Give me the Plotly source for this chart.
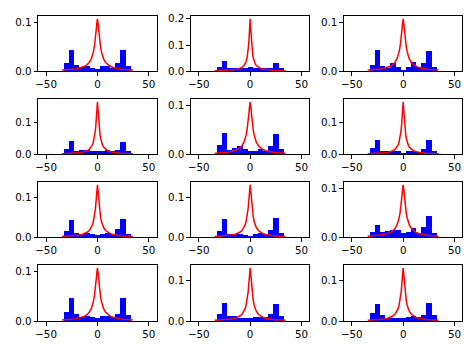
import plotly.graph_objects as go

# ---------------- data ----------------
BIN_CENTERS = [-30, -25, -20, -15, -10, -5, 0, 5, 10, 15, 20, 25, 30]
BIN_WIDTH = 5

DENS_1 = [0.0164, 0.0427, 0.012, 0.008, 0.011, 0.0066, 0.005, 0.011, 0.010, 0.006, 0.016, 0.044, 0.011]
DENS_2 = [0.016, 0.039, 0.013, 0.010, 0.010, 0.010, 0.017, 0.010, 0.010, 0.010, 0.012, 0.032, 0.010]
DENS_3 = [0.013, 0.043, 0.010, 0.006, 0.0167, 0.008, 0.003, 0.008, 0.018, 0.008, 0.0167, 0.041, 0.009]
DENS_4 = [0.016, 0.041, 0.011, 0.013, 0.013, 0.011, 0.009, 0.010, 0.012, 0.009, 0.014, 0.038, 0.008]
DENS_5 = [0.019, 0.042, 0.008, 0.012, 0.0155, 0.0095, 0.007, 0.0054, 0.011, 0.007, 0.017, 0.041, 0.0095]
DENS_6 = [0.020, 0.044, 0.010, 0.008, 0.010, 0.008, 0.003, 0.008, 0.010, 0.007, 0.017, 0.044, 0.010]
DENS_7 = [0.015, 0.043, 0.011, 0.007, 0.011, 0.007, 0.005, 0.007, 0.011, 0.007, 0.019, 0.045, 0.008]
DENS_8 = [0.016, 0.045, 0.008, 0.008, 0.007, 0.006, 0.003, 0.008, 0.011, 0.008, 0.017, 0.048, 0.011]
DENS_9 = [0.010, 0.025, 0.010, 0.0116, 0.015, 0.015, 0.008, 0.0095, 0.018, 0.008, 0.0197, 0.042, 0.008]
DENS_10 = [0.0168, 0.045, 0.0127, 0.0074, 0.010, 0.0074, 0.0047, 0.0094, 0.010, 0.0067, 0.0134, 0.045, 0.0114]
DENS_11 = [0.0165, 0.043, 0.0118, 0.0118, 0.007, 0.0055, 0.0055, 0.0087, 0.0087, 0.008, 0.0165, 0.041, 0.0118]
DENS_12 = [0.0197, 0.040, 0.015, 0.007, 0.007, 0.007, 0.007, 0.008, 0.0118, 0.008, 0.015, 0.043, 0.0134]

RED_X = [-34.5, -30, -26, -22, -18, -15, -12, -10, -8, -6, -5, -4, -3, -2.5, -2, -1.5, -1, -0.5,
         0, 0.5, 1, 1.5, 2, 2.5, 3, 4, 5, 6, 8, 10, 12, 15, 18, 22, 26, 30, 34.5]

RED_A = [0.00236, 0.00289, 0.00356, 0.00453, 0.00603, 0.00779, 0.01058, 0.01349, 0.0179, 0.0253,
         0.0310, 0.0389, 0.0500, 0.0573, 0.0660, 0.0763, 0.0878, 0.0993, 0.107,
         0.0993, 0.0878, 0.0763, 0.0660, 0.0573, 0.0500, 0.0389, 0.0310, 0.0253, 0.0179,
         0.01349, 0.01058, 0.00779, 0.00603, 0.00453, 0.00356, 0.00289, 0.00236]
RED_B = [0.00174, 0.00215, 0.00265, 0.0034, 0.00456, 0.00595, 0.0082, 0.0107, 0.0146, 0.0216,
         0.0275, 0.0364, 0.0511, 0.0622, 0.0773, 0.0985, 0.128, 0.167, 0.200,
         0.167, 0.128, 0.0985, 0.0773, 0.0622, 0.0511, 0.0364, 0.0275, 0.0216, 0.0146,
         0.0107, 0.0082, 0.00595, 0.00456, 0.0034, 0.00265, 0.00215, 0.00174]
RED_C = [0.00192, 0.00236, 0.00292, 0.00373, 0.0050, 0.0065, 0.00895, 0.01157, 0.0157, 0.0230,
         0.0290, 0.0378, 0.0517, 0.0618, 0.0751, 0.0926, 0.1153, 0.1422, 0.163,
         0.1422, 0.1153, 0.0926, 0.0751, 0.0618, 0.0517, 0.0378, 0.0290, 0.0230, 0.0157,
         0.01157, 0.00895, 0.0065, 0.0050, 0.00373, 0.00292, 0.00236, 0.00192]
RED_D = [0.00214, 0.00263, 0.00324, 0.00414, 0.00553, 0.00717, 0.00981, 0.01259, 0.01695, 0.0244,
         0.0303, 0.0388, 0.0515, 0.0602, 0.0712, 0.0847, 0.1010, 0.1185, 0.131,
         0.1185, 0.1010, 0.0847, 0.0712, 0.0602, 0.0515, 0.0388, 0.0303, 0.0244, 0.01695,
         0.01259, 0.00981, 0.00717, 0.00553, 0.00414, 0.00324, 0.00263, 0.00214]

PANEL_DENS = [DENS_1, DENS_2, DENS_3, DENS_4, DENS_5, DENS_6,
              DENS_7, DENS_8, DENS_9, DENS_10, DENS_11, DENS_12]
PANEL_RED = [RED_A, RED_B, RED_A, RED_C, RED_A, RED_C,
             RED_D, RED_D, RED_A, RED_A, RED_D, RED_D]

X_TICKS = [-50, 0, 50]
X_TICK_TEXT = ["\u221250", "0", "50"]
Y_TICKS = [0.0, 0.1, 0.2]
Y_TICK_TEXT = ["0.0", "0.1", "0.2"]

# ---------------- layout geometry (window pixels) ----------------
OFF = 8  # page body margin
W, H = 474 - OFF, 355 - OFF
COL_PX = [(35.3, 154.7), (189.0, 308.4), (343.0, 462.4)]
ROW_PX = [(12.3, 69.0), (98.0, 154.7), (183.3, 240.0), (269.0, 326.3)]
X_RANGE = [-57.75, 57.75]

fig = go.Figure()
font = dict(family="DejaVu Sans", size=10.3, color="black")

for i in range(12):
    r, c = divmod(i, 3)
    xa = "x" if i == 0 else f"x{i+1}"
    ya = "y" if i == 0 else f"y{i+1}"
    dens = PANEL_DENS[i]
    red = PANEL_RED[i]
    fig.add_trace(go.Bar(x=BIN_CENTERS, y=dens, width=BIN_WIDTH,
                         marker=dict(color="#0000ff", line=dict(width=0)),
                         xaxis=xa, yaxis=ya, showlegend=False, hoverinfo="skip"))
    fig.add_trace(go.Scatter(x=RED_X, y=red, mode="lines",
                             line=dict(color="#ff0000", width=1.5),
                             xaxis=xa, yaxis=ya, showlegend=False, hoverinfo="skip"))
    ymax = 1.05 * max(max(dens), max(red))
    yt = [v for v in Y_TICKS if v <= ymax]
    ytt = [Y_TICK_TEXT[k] for k, v in enumerate(Y_TICKS) if v <= ymax]
    x0, x1 = COL_PX[c]
    t0, t1 = ROW_PX[r]
    common = dict(showline=True, mirror=True, linecolor="black", linewidth=0.8,
                  ticks="outside", ticklen=3.5, tickwidth=0.8, tickcolor="black",
                  showgrid=False, zeroline=False, tickfont=font, fixedrange=True)
    fig.layout[("xaxis" if i == 0 else f"xaxis{i+1}")] = dict(
        domain=[(x0 - OFF) / W, (x1 - OFF) / W], anchor=ya, range=X_RANGE,
        tickvals=X_TICKS, ticktext=X_TICK_TEXT, **common)
    fig.layout[("yaxis" if i == 0 else f"yaxis{i+1}")] = dict(
        domain=[1 - (t1 - OFF) / H, 1 - (t0 - OFF) / H], anchor=xa, range=[0, ymax],
        tickvals=yt, ticktext=ytt, **common)

fig.update_layout(width=W, height=H, margin=dict(l=0, r=0, t=0, b=0),
                  paper_bgcolor="white", plot_bgcolor="white",
                  bargap=0, barmode="overlay", font=font, showlegend=False)

fig.write_html("out.html", config={"displayModeBar": False})
